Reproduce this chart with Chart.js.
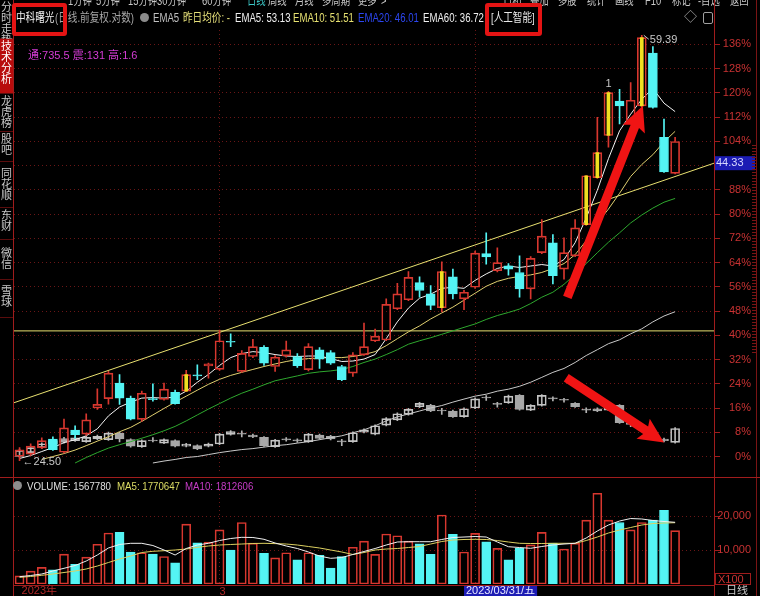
<!DOCTYPE html>
<html>
<head>
<meta charset="utf-8">
<script src="https://cdn.jsdelivr.net/npm/chart.js@4"></script>
<style>
body{margin:0;background:#000;}
#wrap{position:relative;width:760px;height:596px;overflow:hidden;background:#000;font-family:"Liberation Sans","Noto Sans CJK SC",sans-serif;}
canvas{position:absolute;left:0;}
.t{position:absolute;white-space:nowrap;font-size:12px;line-height:14px;color:#c8c8c8;transform-origin:0 0;}
.tab{position:absolute;left:0;width:13px;font-size:11px;line-height:11px;text-align:center;color:#c8c8c8;word-break:break-all;border-bottom:1px solid #5a0c0c;box-sizing:border-box;padding-top:1px;font-family:"Noto Sans CJK SC",sans-serif;}
.vl{position:absolute;width:1px;background:#a01c1c;}
.hl{position:absolute;height:1px;background:#a01c1c;}
.box{position:absolute;border:4px solid #e41414;border-radius:3px;box-sizing:border-box;}
</style>
</head>
<body>
<div id="wrap">
  <canvas id="mainChart" width="760" height="478" style="top:0"></canvas>
  <canvas id="volChart" width="760" height="118" style="top:478px"></canvas>
</div>
<script>
// ---- data ----
const basePrice = 24.85;           // 0% line of the right axis
const pctTicks = [0, 8, 16, 24, 32, 40, 48, 56, 64, 72, 80, 88, 96, 104, 112, 120, 128, 136];
const monthStarts = [18, 41];      // bar index of 2023-03-01 and 2023-04-03
const monthLabels = ['3', ''];
const firstLabel = '2023年';
const cursorDate = '2023/03/31/五';
const cursorBar = 40;
const lastPriceLabel = '44.33';
const limitUp = [15, 38, 51, 52, 53, 56];

const opens = [24.87,25.05,25.56,26.29,25.20,27.02,26.68,28.83,29.60,30.88,
  29.64,27.89,29.60,29.53,30.12,30.21,31.54,32.27,31.99,34.30,
  31.83,33.05,33.80,32.23,33.10,33.05,31.97,33.59,33.37,32.23,
  31.69,33.18,34.32,34.40,36.96,37.70,39.11,38.18,37.05,39.59,
  37.78,38.73,41.48,40.08,40.49,39.94,38.59,41.57,42.38,40.21,
  41.30,43.86,47.71,51.17,54.00,52.19,53.60,57.93,51.03,48.06];
const closes = [25.39,25.70,26.15,25.42,27.20,26.64,27.85,29.13,31.69,29.64,
  27.91,30.04,29.52,30.37,29.19,31.56,31.46,32.45,34.34,34.22,
  33.31,33.86,32.50,32.99,33.59,32.29,33.86,32.83,32.50,31.15,
  33.18,33.86,34.72,37.32,38.18,39.54,38.46,37.24,40.02,38.18,
  38.32,41.52,41.22,40.75,40.21,38.59,41.10,42.92,39.67,41.57,
  43.59,47.87,49.76,54.69,53.60,54.06,59.20,53.47,48.19,50.68];
const highs = [25.58,25.90,26.39,26.47,27.91,27.37,28.34,30.39,31.83,31.56,
  29.80,30.21,30.81,30.88,30.29,31.91,32.37,32.52,35.21,34.91,
  33.53,34.45,33.94,33.13,34.32,33.29,34.10,33.78,33.53,32.32,
  33.37,35.80,35.29,37.78,39.05,40.02,39.59,38.86,40.81,40.21,
  38.48,41.70,43.19,41.97,40.67,41.30,41.24,44.27,43.05,42.78,
  44.27,47.89,52.66,54.79,54.95,55.50,59.39,58.47,52.52,51.03];
const lows = [24.50,24.93,25.50,25.34,25.13,26.33,26.59,28.72,29.15,29.13,
  27.85,27.73,29.39,29.48,29.15,30.16,31.15,31.28,31.91,33.86,
  31.75,32.96,32.32,31.83,33.00,32.15,31.87,32.07,32.40,31.06,
  31.42,33.13,34.26,34.34,36.90,37.63,37.91,36.88,36.70,37.78,
  36.88,38.64,40.62,39.98,39.72,37.91,37.78,41.48,39.00,39.40,
  41.24,43.80,47.65,50.22,52.11,52.11,53.49,53.41,48.14,48.02];

const ema5 = [24.69,24.93,25.26,25.58,25.99,26.23,26.55,27.12,28.18,28.91,
  29.31,29.64,29.68,29.64,29.72,30.21,30.94,31.58,32.32,32.96,
  33.29,33.45,33.37,33.21,33.09,33.05,33.09,33.09,32.88,32.64,
  32.68,32.84,33.21,34.51,35.89,37.02,37.83,38.16,38.64,38.72,
  38.64,39.29,39.82,40.27,40.47,40.35,40.47,40.59,40.47,41.00,
  42.38,44.41,46.68,49.27,51.55,52.92,54.14,55.03,53.82,53.13];
const ema10 = [null,null,24.61,24.85,25.09,25.38,25.74,26.11,26.47,26.88,
  27.24,27.73,28.26,28.79,29.31,29.80,30.29,30.77,31.18,31.50,
  31.75,31.99,32.23,32.44,32.64,32.80,32.88,32.92,32.96,32.96,
  33.05,33.21,33.45,33.94,34.51,35.07,35.56,36.13,36.62,37.10,
  37.67,38.24,38.81,39.21,39.46,39.62,39.74,39.94,40.27,40.67,
  41.40,42.54,44.00,45.14,46.43,47.81,48.79,49.60,50.65,51.51];
const ema20 = [null,null,null,null,null,24.32,24.77,25.17,25.54,25.82,
  26.07,26.35,26.64,26.96,27.32,27.77,28.26,28.74,29.19,29.64,
  30.04,30.37,30.73,31.06,31.26,31.46,31.67,31.79,31.87,31.99,
  32.23,32.56,32.84,33.21,33.61,34.06,34.34,34.59,34.87,35.15,
  35.44,35.72,36.09,36.41,36.66,36.94,37.39,37.91,38.32,38.97,
  39.78,40.67,41.56,42.42,43.19,44.00,44.65,45.22,45.70,46.01];
const ema60 = [null,null,null,null,null,null,null,null,null,null,null,null,
  24.32,24.48,24.61,24.77,24.85,25.01,25.17,25.30,25.42,25.50,
  25.62,25.74,25.82,25.95,26.07,26.23,26.39,26.55,26.80,27.04,
  27.37,27.77,28.10,28.34,28.58,28.83,29.03,29.31,29.56,29.80,
  29.96,30.21,30.37,30.61,30.94,31.34,31.75,32.07,32.56,33.13,
  33.61,34.10,34.42,34.91,35.32,35.89,36.37,36.72];

// overlaid index (grey candles)
const ovOpen = [24.85,25.17,25.58,25.90,26.33,26.15,26.07,26.29,26.23,26.77,
  26.23,25.66,26.15,25.95,26.15,25.70,25.74,25.69,25.88,26.66,
  26.70,26.61,26.42,25.66,26.24,26.15,26.07,26.61,26.51,26.07,
  26.07,26.84,26.69,27.42,27.85,28.31,28.93,29.04,28.60,28.58,
  28.12,28.83,29.67,29.14,29.26,29.86,28.66,29.04,29.59,29.48,
  29.21,28.67,28.77,28.66,29.04,27.51,27.11,26.73,26.29,26.01];
const ovClose = [25.34,25.58,25.90,26.15,26.01,26.39,26.42,26.50,26.77,26.29,
  25.69,26.15,26.12,26.23,25.70,25.86,25.47,25.88,26.69,26.90,
  26.68,26.46,25.74,26.19,26.22,26.13,26.69,26.33,26.29,26.05,
  26.80,27.04,27.37,27.96,28.36,28.72,29.21,28.58,28.58,28.12,
  28.77,29.58,29.65,29.12,29.80,28.72,29.04,29.86,29.57,29.46,
  28.93,28.65,28.58,29.13,27.63,27.49,27.09,26.71,26.15,27.15];
const ovHigh = [25.42,25.66,25.98,26.23,26.42,26.47,26.50,26.60,26.85,26.85,
  26.30,26.22,26.40,26.31,26.22,25.93,25.80,25.95,26.76,26.98,
  26.95,26.68,26.48,26.26,26.40,26.30,26.76,26.68,26.58,26.25,
  26.88,27.12,27.45,28.04,28.44,28.80,29.29,29.12,28.80,28.65,
  28.85,29.66,29.85,29.30,29.88,29.93,29.11,29.93,29.75,29.62,
  29.28,28.85,28.84,29.20,29.11,27.70,27.30,26.90,26.36,27.22];
const ovLow = [24.80,25.10,25.52,25.84,25.95,26.09,26.01,26.23,26.17,26.05,
  25.62,25.60,26.05,25.90,25.64,25.64,25.42,25.63,25.82,26.60,
  26.45,26.40,25.68,25.60,26.10,26.00,26.01,26.27,26.22,25.74,
  26.00,26.78,26.62,27.36,27.78,28.25,28.86,28.52,28.30,28.06,
  28.06,28.77,29.45,28.90,29.20,28.66,28.60,28.98,29.40,29.30,
  28.87,28.45,28.52,28.60,27.57,27.30,26.90,26.50,26.05,25.95];

// volume in lots of 100
const volumes = [2400,3800,4900,4200,8800,5800,7900,11700,15000,15200,
  9400,9200,8800,8100,6200,17600,12100,12300,15900,10000,
  18100,12000,9000,7700,9200,7100,9200,8400,4700,8100,
  10800,12600,8700,14700,14200,12600,11800,8700,20300,14600,
  9400,14900,12400,10500,7100,10500,11500,15200,12000,10300,
  12000,18800,26700,18800,18100,15900,18100,18800,21700,15678];
const volMa5 = [2150,2500,2940,3820,4620,5440,6760,8530,10590,11620,
  11970,11970,11320,10000,8530,10440,11470,11970,12790,13380,
  13730,13680,13150,12060,11180,10440,9410,8230,7560,7790,
  8680,9560,10440,11470,12350,12440,12440,12440,13090,13680,
  13820,13970,13820,12350,10970,10730,10500,11030,11470,11760,
  11970,13530,15590,17350,18530,19260,19120,18680,18380,18150];
const volMa10 = [1970,2210,2560,2940,3380,3820,4410,5290,6320,7350,
  8230,9260,9620,9790,10000,10290,10790,11180,11470,11620,
  11760,11910,11970,11880,11760,11470,11030,10590,10000,9410,
  8680,9260,10000,10290,10440,10730,11030,11760,12500,12940,
  13090,13150,13090,12790,12350,11970,11910,11910,11970,11970,
  11970,12790,13820,15000,15880,16620,17350,17790,17940,18030];
const volTicks = [10000, 20000];

// drawn lines: channel and horizontal support (bar index, price)
const channelLine = [[-0.5, 29.26], [62.5, 48.90]];
const supportLine = [[-0.5, 35.15], [62.5, 35.15]];
// red arrows drawn on the screenshot (bar index, price)
const arrows = [
  {from: [49.3, 37.9], to: [56.1, 53.6]},
  {from: [49.2, 31.3], to: [58.0, 26.0]}
];

// ---- page furniture ----
const wrap = document.getElementById('wrap');
function addText(txt, x, y, color, size, sx) {
  const d = document.createElement('div');
  d.className = 't';
  d.textContent = txt;
  d.style.left = x + 'px';
  d.style.top = y + 'px';
  if (color) d.style.color = color;
  if (size) d.style.fontSize = size + 'px';
  if (sx) d.style.transform = 'scaleX(' + sx + ')';
  wrap.appendChild(d);
  return d;
}
function addDiv(cls, style) {
  const d = document.createElement('div');
  d.className = cls;
  Object.assign(d.style, style);
  wrap.appendChild(d);
  return d;
}

// top toolbar, cut off by the screenshot
[['1分钟',68],['5分钟',96],['15分钟',128],['30分钟',157],['60分钟',202],['日线',247,'#3cc8c8'],['周线',268],['月线',295],['多周期',322],['更多',358],['>',381],
 ['日和',503],['叠加',530],['多股',558],['统计',587],['画线',615],['F10',645],['标记',672],['-自选',698],['返回',730]]
  .forEach(([s, x, c]) => addText(s, x, -6, c || '#c8c8c8', 12, 0.78));

// left tabs
[['分时走势',0,39],['技术分析',39,55,true],['龙虎榜',94,38],['股吧',132,30],['同花顺',166,42],['东财',208,32],['微信',246,34],['雪球',284,34]]
  .forEach(([s, top, h, active]) => {
    const d = addDiv('tab', {top: top + 'px', height: h + 'px'});
    d.textContent = s;
    if (active) { d.style.background = '#b80c0c'; d.style.color = '#fff'; }
  });

// frame lines
addDiv('vl', {left: '13px', top: '0px', height: '596px'});
addDiv('vl', {left: '714px', top: '0px', height: '596px'});
addDiv('vl', {left: '756px', top: '0px', height: '596px', background: '#7a1414'});
addDiv('hl', {left: '0px', top: '477px', width: '760px'});
addDiv('hl', {left: '13px', top: '585px', width: '702px'});
addDiv('', {position: 'absolute', left: '752px', top: '145px', width: '4px', height: '210px',
  background: 'repeating-linear-gradient(#7a1414 0 1px, transparent 1px 3px)'});

// header line
const hs = 0.8;
addText('中科曙光', 16, 11, '#f0f0f0', 12, hs);
addText('(日线.前复权.对数)', 55, 11, '#a8a8a8', 12, hs);
addDiv('', {position: 'absolute', left: '140px', top: '13px', width: '9px', height: '9px', borderRadius: '50%', background: '#8c8c8c'});
addText('EMA5', 153, 11, '#c0c0c0', 12, hs);
addText('昨日均价: -', 183, 11, '#e6e07a', 12, hs);
addText('EMA5: 53.13', 235, 11, '#f0f0f0', 12, hs);
addText('EMA10: 51.51', 293, 11, '#e6e070', 12, hs);
addText('EMA20: 46.01', 358, 11, '#2c46f0', 12, hs);
addText('EMA60: 36.72', 423, 11, '#f0f0f0', 12, hs);
addText('[人工智能]', 491, 11, '#e8e8e8', 12, hs);
addText('◇', 684, 10, '#a0a0a0', 13);
addDiv('', {position: 'absolute', left: '703px', top: '12px', width: '8px', height: '10px', border: '1px solid #a0a0a0', borderRadius: '2px'});
addText('通:735.5 震:131 高:1.6', 28, 48, '#d43cd4', 11);

// volume header
addDiv('', {position: 'absolute', left: '13px', top: '481px', width: '9px', height: '9px', borderRadius: '50%', background: '#8c8c8c'});
addText('VOLUME: 1567780', 27, 479, '#e0e0e0', 11, 0.88);
addText('MA5: 1770647', 117, 479, '#dcdc64', 11, 0.88);
addText('MA10: 1812606', 185, 479, '#c83cc8', 11, 0.88);
addText('日线', 726, 583, '#c8c8c8', 11);
addDiv('', {position: 'absolute', left: '715px', top: '573px', width: '36px', height: '12px', border: '1px solid #a01c1c', boxSizing: 'border-box'});
addText('X100', 718, 572, '#c83232', 11);

// red marker boxes from the screenshot
addDiv('box', {left: '12px', top: '3px', width: '55px', height: '33px'});
addDiv('box', {left: '485px', top: '3px', width: '57px', height: '33px'});

// ---- charts ----
const red = '#d8372f', cyan = '#54f4f4', limitFill = '#f0e020', grid = '#6a1616';
const idx = closes.map((_, i) => i);
const up = i => closes[i] >= opens[i];
const pts = arr => arr.map((v, i) => ({x: i, y: v}));
const xScale = {
  type: 'linear', min: -0.5, max: 62.5, offset: false,
  ticks: {display: false},
  grid: {color: grid, drawTicks: false, offset: false},
  border: {display: false, dash: [1, 3]},
  afterBuildTicks: s => { s.ticks = monthStarts.map(v => ({value: v})); }
};
const lineDs = (arr, color, order) => ({
  type: 'line', data: pts(arr), borderColor: color, borderWidth: 1,
  pointRadius: 0, tension: 0, spanGaps: false, order
});

function drawArrow(ctx, x1, y1, x2, y2) {
  const ang = Math.atan2(y2 - y1, x2 - x1), len = Math.hypot(x2 - x1, y2 - y1);
  ctx.save();
  ctx.translate(x1, y1);
  ctx.rotate(ang);
  ctx.fillStyle = '#f01414';
  ctx.beginPath();
  ctx.moveTo(0, -4.5); ctx.lineTo(len - 22, -4.5); ctx.lineTo(len - 25, -12);
  ctx.lineTo(len, 0);
  ctx.lineTo(len - 25, 12); ctx.lineTo(len - 22, 4.5); ctx.lineTo(0, 4.5);
  ctx.closePath();
  ctx.fill();
  ctx.restore();
}

const mainNotes = {
  id: 'mainNotes',
  afterDatasetsDraw(chart) {
    const {ctx, scales: {x, y}} = chart;
    ctx.save();
    ctx.font = '11px "Liberation Sans", sans-serif';
    ctx.fillStyle = '#c8c8c8';
    ctx.strokeStyle = '#c8c8c8';
    // highest high
    const hi = highs.indexOf(Math.max(...highs));
    const hx = x.getPixelForValue(hi), hy = y.getPixelForValue(highs[hi]);
    ctx.beginPath(); ctx.moveTo(hx + 2, hy); ctx.lineTo(hx + 7, hy + 4); ctx.stroke();
    ctx.textBaseline = 'middle';
    ctx.fillText(highs[hi].toFixed(2), hx + 8, hy + 5);
    // lowest low
    const lo = lows.indexOf(Math.min(...lows));
    ctx.fillText('←' + lows[lo].toFixed(2), x.getPixelForValue(lo) + 3, y.getPixelForValue(lows[lo]) + 1);
    // "1" marker over the limit-up run
    ctx.textAlign = 'center';
    ctx.fillText('1', x.getPixelForValue(53), y.getPixelForValue(highs[53]) - 7);
    ctx.restore();
    arrows.forEach(a => drawArrow(ctx,
      x.getPixelForValue(a.from[0]), y.getPixelForValue(a.from[1]),
      x.getPixelForValue(a.to[0]), y.getPixelForValue(a.to[1])));
  },
  afterDraw(chart) {
    const {ctx, scales: {y}, chartArea} = chart;
    const py = y.getPixelForValue(channelLine[1][1]);
    ctx.save();
    ctx.fillStyle = '#1c1cb4';
    ctx.fillRect(chartArea.right, py - 7, 41, 14);
    ctx.fillStyle = '#d8d8ff';
    ctx.font = '11px "Liberation Sans", sans-serif';
    ctx.textBaseline = 'middle';
    ctx.fillText(lastPriceLabel, chartArea.right + 2, py);
    ctx.restore();
  }
};

new Chart(document.getElementById('mainChart'), {
  type: 'bar',
  data: {
    datasets: [
      // yellow core of limit-up candles
      {data: limitUp.map(i => ({x: i, y: [opens[i], closes[i]]})),
       backgroundColor: limitFill, barThickness: 3, grouped: false, order: 0},
      {data: idx.map(i => ({x: i, y: [opens[i], closes[i]]})),
       backgroundColor: idx.map(i => up(i) ? 'rgba(0,0,0,0)' : cyan),
       borderColor: idx.map(i => up(i) ? red : cyan),
       borderWidth: 1, borderSkipped: false, barThickness: 9, minBarLength: 1, grouped: false, order: 1},
      {data: idx.map(i => ({x: i, y: [Math.max(opens[i], closes[i]), highs[i]]})),
       backgroundColor: idx.map(i => up(i) ? red : cyan), barThickness: 1, grouped: false, order: 2},
      {data: idx.map(i => ({x: i, y: [lows[i], Math.min(opens[i], closes[i])]})),
       backgroundColor: idx.map(i => up(i) ? red : cyan), barThickness: 1, grouped: false, order: 2},
      lineDs(ema5, '#f4f4f4', 3),
      lineDs(ema10, '#e0d070', 3),
      lineDs(ema20, '#2ea82e', 3),
      lineDs(ema60, '#c8c8c8', 3),
      {type: 'line', data: channelLine.map(([x, y]) => ({x, y})), borderColor: '#e8e070', borderWidth: 1, pointRadius: 0, order: 3},
      {type: 'line', data: supportLine.map(([x, y]) => ({x, y})), borderColor: '#e8e070', borderWidth: 1, pointRadius: 0, order: 3},
      {data: idx.map(i => ({x: i, y: [ovOpen[i], ovClose[i]]})),
       backgroundColor: idx.map(i => ovClose[i] >= ovOpen[i] ? 'rgba(0,0,0,0)' : '#a8a8a8'),
       borderColor: idx.map(i => ovClose[i] >= ovOpen[i] ? '#c4c4c4' : '#a8a8a8'),
       borderWidth: 1, borderSkipped: false, barThickness: 9, minBarLength: 1, grouped: false, order: 4},
      {data: idx.map(i => ({x: i, y: [ovLow[i], ovHigh[i]]})),
       backgroundColor: '#b4b4b4', barThickness: 1, grouped: false, order: 5}
    ]
  },
  options: {
    responsive: false, animation: false,
    layout: {padding: {left: 14, right: 9, top: 30, bottom: 2}},
    plugins: {legend: {display: false}, tooltip: {enabled: false}},
    scales: {
      x: xScale,
      y: {
        position: 'right', min: 23.63, max: 59.82, beginAtZero: false,
        afterBuildTicks: s => { s.ticks = pctTicks.map(p => ({value: basePrice * (1 + p / 100)})); },
        afterFit: s => { s.width = 37; },
        ticks: {color: '#c83232', font: {family: 'Liberation Sans', size: 11}, crossAlign: 'far', padding: 0,
          callback: v => Math.round((v / basePrice - 1) * 100) + '%'},
        grid: {color: grid, tickColor: '#a01c1c', tickLength: 6},
        border: {display: false, dash: [1, 3]}
      }
    }
  },
  plugins: [mainNotes]
});

const volNotes = {
  id: 'volNotes',
  afterDraw(chart) {
    const {ctx, scales: {x}, chartArea} = chart;
    const px = x.getPixelForValue(cursorBar);
    ctx.save();
    ctx.font = '11px "Liberation Sans", "Noto Sans CJK SC", sans-serif';
    const w = ctx.measureText(cursorDate).width + 4;
    ctx.fillStyle = '#1c1cb4';
    ctx.fillRect(px, chartArea.bottom + 1, w, 12);
    ctx.fillStyle = '#e8e8ff';
    ctx.textBaseline = 'top';
    ctx.fillText(cursorDate, px + 2, chartArea.bottom + 1);
    ctx.fillStyle = '#b02828';
    ctx.fillText(firstLabel, x.getPixelForValue(0) + 2, chartArea.bottom + 1);
    ctx.restore();
  }
};

new Chart(document.getElementById('volChart'), {
  type: 'bar',
  data: {
    datasets: [
      {data: volumes.map((v, i) => ({x: i, y: v})),
       backgroundColor: idx.map(i => up(i) ? 'rgba(0,0,0,0)' : cyan),
       borderColor: idx.map(i => up(i) ? red : cyan),
       borderWidth: 1, borderSkipped: false, barThickness: 9, grouped: false, order: 2},
      lineDs(volMa5, '#f0f0f0', 1),
      lineDs(volMa10, '#dcd060', 1)
    ]
  },
  options: {
    responsive: false, animation: false,
    layout: {padding: {left: 14, right: 9, top: 12, bottom: 0}},
    plugins: {legend: {display: false}, tooltip: {enabled: false}},
    scales: {
      x: Object.assign({}, xScale, {
        ticks: {display: true, color: '#b02828', font: {family: 'Liberation Sans', size: 11}, padding: 1,
          align: 'start', maxRotation: 0, autoSkip: false,
          callback: (v, i) => monthLabels[i]},
        afterFit: s => { s.height = 12; }
      }),
      y: {
        position: 'right', min: 0, max: 27650, beginAtZero: true,
        afterBuildTicks: s => { s.ticks = volTicks.map(v => ({value: v})); },
        afterFit: s => { s.width = 37; },
        ticks: {color: '#c83232', font: {family: 'Liberation Sans', size: 11}, crossAlign: 'far', padding: 0},
        grid: {color: grid, tickColor: '#a01c1c', tickLength: 6},
        border: {display: false, dash: [1, 3]}
      }
    }
  },
  plugins: [volNotes]
});
</script>
</body>
</html>
